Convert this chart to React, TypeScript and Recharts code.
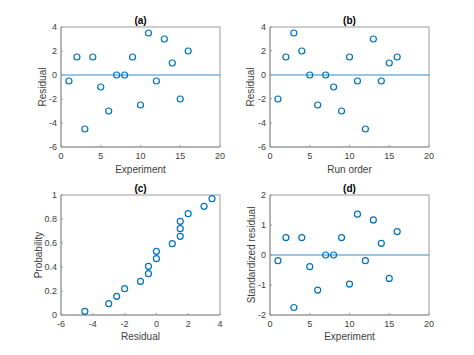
import React from 'react';
import {
  ScatterChart,
  Scatter,
  XAxis,
  YAxis,
  ReferenceLine,
  ReferenceArea,
} from 'recharts';

// Experiment / run numbers
const runs = [1, 2, 3, 4, 5, 6, 7, 8, 9, 10, 11, 12, 13, 14, 15, 16];

// (a) residual by experiment
const residualByExperiment = [-0.5, 1.5, -4.5, 1.5, -1, -3, 0, 0, 1.5, -2.5, 3.5, -0.5, 3, 1, -2, 2];

// (b) residual by run order
const residualByRunOrder = [-2, 1.5, 3.5, 2, 0, -2.5, 0, -1, -3, 1.5, -0.5, -4.5, 3, -0.5, 1, 1.5];

// (c) normal probability plot
const sortedResidual = [-4.5, -3, -2.5, -2, -1, -0.5, -0.5, 0, 0, 1, 1.5, 1.5, 1.5, 2, 3, 3.5];
const probability = [0.031, 0.094, 0.156, 0.219, 0.281, 0.344, 0.406, 0.469, 0.531, 0.594, 0.656, 0.719, 0.781, 0.844, 0.906, 0.969];

// (d) standardized residual by experiment
const standardizedResidual = [-0.19, 0.58, -1.75, 0.58, -0.39, -1.17, 0, 0, 0.58, -0.97, 1.36, -0.19, 1.17, 0.39, -0.78, 0.78];

const expTicks = [0, 5, 10, 15, 20];
const residTicks = [-6, -4, -2, 0, 2, 4];
const residXTicks = [-6, -4, -2, 0, 2, 4];
const probTicks = [0, 0.2, 0.4, 0.6, 0.8, 1];
const stdTicks = [-2, -1, 0, 1, 2];

const FONT = '"Liberation Sans", Arial, Helvetica, sans-serif';
const BOX = '#9a9a9a';
const TEXT = '#404040';
const BLUE = '#0072BD';

const Marker = (props: any) => (
  <circle cx={props.cx} cy={props.cy} r={3} fill="none" stroke={BLUE} strokeWidth={1.2} />
);

interface PanelProps {
  title: string;
  xLabel: string;
  yLabel: string;
  xs: number[];
  ys: number[];
  xTicks: number[];
  yTicks: number[];
  left: number;
  top: number;
  height: number;
  marginTop: number;
  marginRight: number;
  yAxisWidth: number;
  xAxisHeight: number;
  yLabelOffset: number;
  xLabelOffset: number;
  tickGap: number;
  zeroLine?: boolean;
}

function Panel(p: PanelProps) {
  const data = p.xs.map((x, i) => ({ x, y: p.ys[i] }));
  const xDomain = [p.xTicks[0], p.xTicks[p.xTicks.length - 1]];
  const yDomain = [p.yTicks[0], p.yTicks[p.yTicks.length - 1]];
  const tickStyle = { fontSize: 9, fill: TEXT, fontFamily: FONT };

  return (
    <div style={{ position: 'absolute', left: p.left, top: p.top }}>
      <ScatterChart
        width={237}
        height={p.height}
        margin={{ top: p.marginTop, right: p.marginRight, bottom: 0, left: 0 }}
      >
        <XAxis
          type="number"
          dataKey="x"
          domain={xDomain}
          ticks={p.xTicks}
          height={p.xAxisHeight}
          stroke={BOX}
          tickSize={-2}
          tickMargin={p.tickGap}
          tick={tickStyle}
          interval={0}
          label={{
            value: p.xLabel,
            position: 'insideBottom',
            offset: p.xLabelOffset,
            style: { fontSize: 10, fill: TEXT, fontFamily: FONT },
          }}
        />
        <YAxis
          type="number"
          dataKey="y"
          domain={yDomain}
          ticks={p.yTicks}
          width={p.yAxisWidth}
          stroke={BOX}
          tickSize={-2}
          tickMargin={6}
          tick={tickStyle}
          interval={0}
          label={{
            value: p.yLabel,
            angle: -90,
            position: 'insideLeft',
            offset: p.yLabelOffset,
            style: { fontSize: 10, fill: TEXT, fontFamily: FONT, textAnchor: 'middle' },
          }}
        />
        {/* axes box with the panel title above it */}
        <ReferenceArea
          x1={xDomain[0]}
          x2={xDomain[1]}
          y1={yDomain[0]}
          y2={yDomain[1]}
          fill="none"
          stroke={BOX}
          strokeWidth={1}
          label={{
            value: p.title,
            position: 'top',
            offset: 3,
            style: { fontSize: 10, fontWeight: 'bold', fill: '#000', fontFamily: FONT },
          }}
        />
        {p.zeroLine && <ReferenceLine y={0} stroke={BLUE} strokeWidth={1} strokeOpacity={0.8} />}
        <Scatter data={data} shape={Marker} isAnimationActive={false} />
      </ScatterChart>
    </div>
  );
}

export default function App() {
  return (
    <div
      style={{
        position: 'absolute',
        left: 0,
        top: 0,
        width: 474,
        height: 355,
        background: '#fff',
        overflow: 'hidden',
      }}
    >
      <Panel
        title="(a)"
        xLabel="Experiment"
        yLabel="Residual"
        xs={runs}
        ys={residualByExperiment}
        xTicks={expTicks}
        yTicks={residTicks}
        left={0}
        top={0}
        height={178}
        marginTop={27}
        marginRight={17}
        yAxisWidth={61}
        xAxisHeight={31}
        yLabelOffset={42}
        xLabelOffset={5}
        tickGap={8}
        zeroLine
      />
      <Panel
        title="(b)"
        xLabel="Run order"
        yLabel="Residual"
        xs={runs}
        ys={residualByRunOrder}
        xTicks={expTicks}
        yTicks={residTicks}
        left={237}
        top={0}
        height={178}
        marginTop={27}
        marginRight={45}
        yAxisWidth={33}
        xAxisHeight={31}
        yLabelOffset={13}
        xLabelOffset={5}
        tickGap={8}
        zeroLine
      />
      <Panel
        title="(c)"
        xLabel="Residual"
        yLabel="Probability"
        xs={sortedResidual}
        ys={probability}
        xTicks={residXTicks}
        yTicks={probTicks}
        left={0}
        top={178}
        height={177}
        marginTop={17}
        marginRight={17}
        yAxisWidth={61}
        xAxisHeight={40}
        yLabelOffset={38}
        xLabelOffset={15}
        tickGap={8}
      />
      <Panel
        title="(d)"
        xLabel="Experiment"
        yLabel="Standardized residual"
        xs={runs}
        ys={standardizedResidual}
        xTicks={expTicks}
        yTicks={stdTicks}
        left={237}
        top={178}
        height={177}
        marginTop={17}
        marginRight={45}
        yAxisWidth={33}
        xAxisHeight={40}
        yLabelOffset={14}
        xLabelOffset={15}
        tickGap={8}
        zeroLine
      />
    </div>
  );
}
